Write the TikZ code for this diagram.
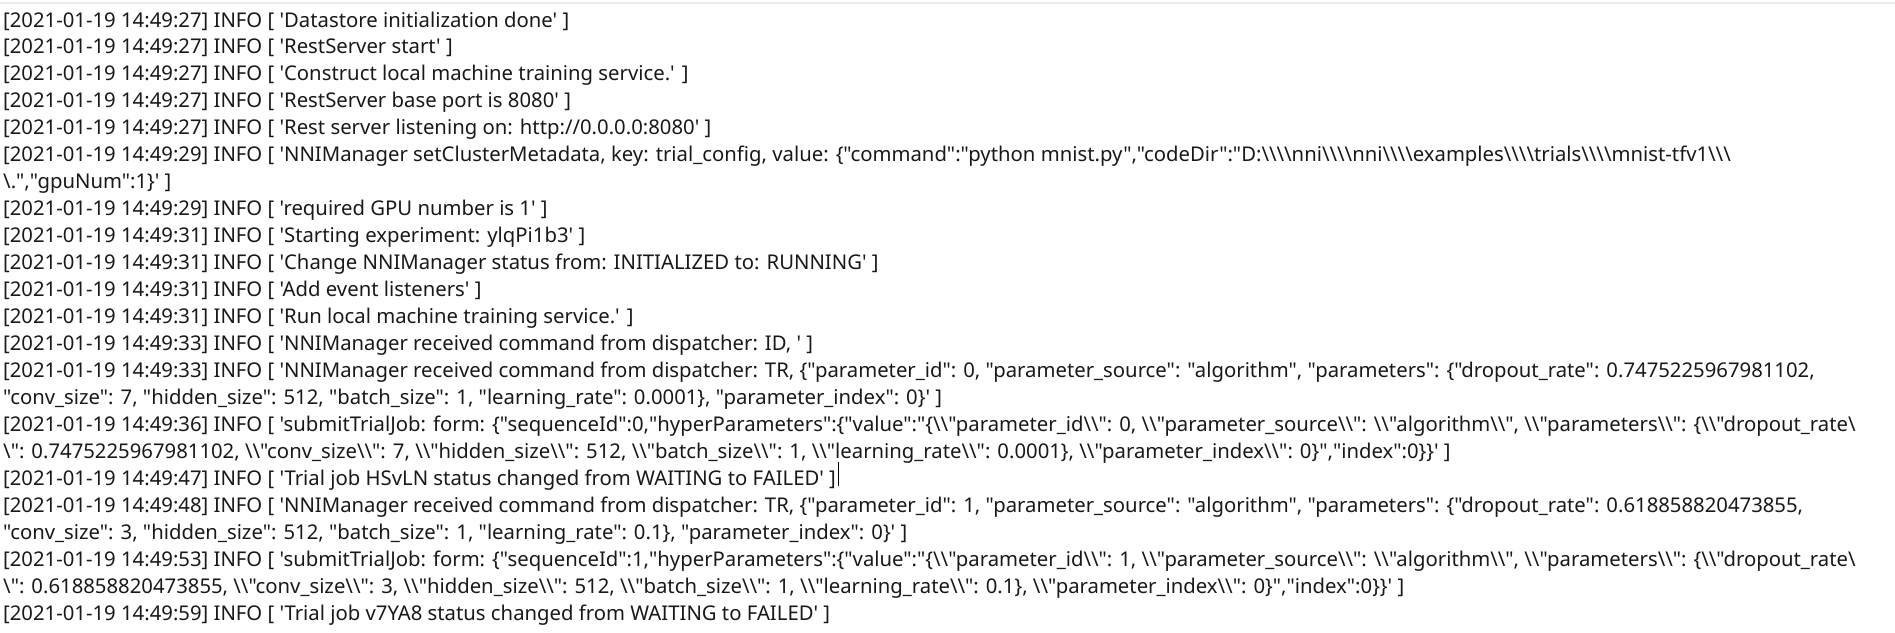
\documentclass[tikz,border=0pt]{standalone}
\usepackage{fontspec}
\newfontfamily\logfont{Noto Sans}
\newcommand{\bs}{\textbackslash}
\newcommand{\logline}[3]{\node[ln] (#1) at (3,{27+26.96*(#2-1)}) {#3};}
\begin{document}
\begin{tikzpicture}[x=1pt,y=-1pt,
  ln/.style={anchor=base west,inner sep=0pt,font=\logfont\fontsize{20.3}{24}\selectfont,text=black!90}]
\useasboundingbox (0,0) rectangle (1895,632);
\fill[white] (0,0) rectangle (1895,632);
\draw[black!8,line width=1.5pt] (0,3) -- (1895,3);
\logline{l1}{1}{[2021-01-19 14:49:27] INFO [ 'Datastore initialization done' ]}
\logline{l2}{2}{[2021-01-19 14:49:27] INFO [ 'RestServer start' ]}
\logline{l3}{3}{[2021-01-19 14:49:27] INFO [ 'Construct local machine training service.' ]}
\logline{l4}{4}{[2021-01-19 14:49:27] INFO [ 'RestServer base port is 8080' ]}
\logline{l5}{5}{[2021-01-19 14:49:27] INFO [ 'Rest server listening on: http://0.0.0.0:8080' ]}
\logline{l6}{6}{[2021-01-19 14:49:29] INFO [ 'NNIManager setClusterMetadata, key: trial\_config, value: \{"command":"python mnist.py","codeDir":"D:\bs\bs\bs\bs nni\bs\bs\bs\bs nni\bs\bs\bs\bs examples\bs\bs\bs\bs trials\bs\bs\bs\bs mnist-tfv1\bs\bs\bs}
\logline{l7}{7}{\bs.","gpuNum":1\}' ]}
\logline{l8}{8}{[2021-01-19 14:49:29] INFO [ 'required GPU number is 1' ]}
\logline{l9}{9}{[2021-01-19 14:49:31] INFO [ 'Starting experiment: ylqPi1b3' ]}
\logline{l10}{10}{[2021-01-19 14:49:31] INFO [ 'Change NNIManager status from: INITIALIZED to: RUNNING' ]}
\logline{l11}{11}{[2021-01-19 14:49:31] INFO [ 'Add event listeners' ]}
\logline{l12}{12}{[2021-01-19 14:49:31] INFO [ 'Run local machine training service.' ]}
\logline{l13}{13}{[2021-01-19 14:49:33] INFO [ 'NNIManager received command from dispatcher: ID, ' ]}
\logline{l14}{14}{[2021-01-19 14:49:33] INFO [ 'NNIManager received command from dispatcher: TR, \{"parameter\_id": 0, "parameter\_source": "algorithm", "parameters": \{"dropout\_rate": 0.7475225967981102,}
\logline{l15}{15}{"conv\_size": 7, "hidden\_size": 512, "batch\_size": 1, "learning\_rate": 0.0001\}, "parameter\_index": 0\}' ]}
\logline{l16}{16}{[2021-01-19 14:49:36] INFO [ 'submitTrialJob: form: \{"sequenceId":0,"hyperParameters":\{"value":"\{\bs\bs"parameter\_id\bs\bs": 0, \bs\bs"parameter\_source\bs\bs": \bs\bs"algorithm\bs\bs", \bs\bs"parameters\bs\bs": \{\bs\bs"dropout\_rate\bs}
\logline{l17}{17}{\bs": 0.7475225967981102, \bs\bs"conv\_size\bs\bs": 7, \bs\bs"hidden\_size\bs\bs": 512, \bs\bs"batch\_size\bs\bs": 1, \bs\bs"learning\_rate\bs\bs": 0.0001\}, \bs\bs"parameter\_index\bs\bs": 0\}","index":0\}\}' ]}
\logline{l18}{18}{[2021-01-19 14:49:47] INFO [ 'Trial job HSvLN status changed from WAITING to FAILED' ]}
\logline{l19}{19}{[2021-01-19 14:49:48] INFO [ 'NNIManager received command from dispatcher: TR, \{"parameter\_id": 1, "parameter\_source": "algorithm", "parameters": \{"dropout\_rate": 0.618858820473855,}
\logline{l20}{20}{"conv\_size": 3, "hidden\_size": 512, "batch\_size": 1, "learning\_rate": 0.1\}, "parameter\_index": 0\}' ]}
\logline{l21}{21}{[2021-01-19 14:49:53] INFO [ 'submitTrialJob: form: \{"sequenceId":1,"hyperParameters":\{"value":"\{\bs\bs"parameter\_id\bs\bs": 1, \bs\bs"parameter\_source\bs\bs": \bs\bs"algorithm\bs\bs", \bs\bs"parameters\bs\bs": \{\bs\bs"dropout\_rate\bs}
\logline{l22}{22}{\bs": 0.618858820473855, \bs\bs"conv\_size\bs\bs": 3, \bs\bs"hidden\_size\bs\bs": 512, \bs\bs"batch\_size\bs\bs": 1, \bs\bs"learning\_rate\bs\bs": 0.1\}, \bs\bs"parameter\_index\bs\bs": 0\}","index":0\}\}' ]}
\logline{l23}{23}{[2021-01-19 14:49:59] INFO [ 'Trial job v7YA8 status changed from WAITING to FAILED' ]}
\draw[black,line width=0.8pt] ([xshift=2pt]l18.east) ++(0,-18) -- ++(0,24);
\end{tikzpicture}
\end{document}
